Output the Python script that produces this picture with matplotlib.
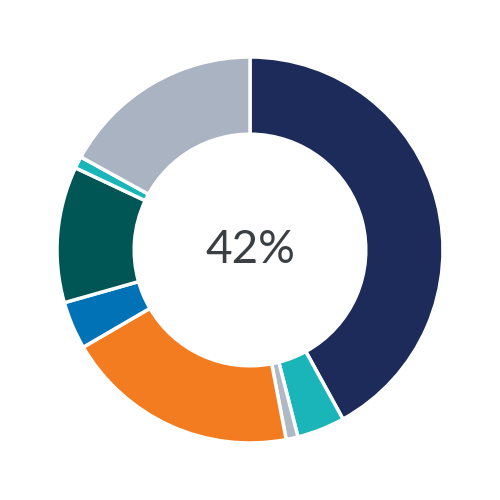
import matplotlib
matplotlib.use("Agg")
import matplotlib.pyplot as plt

labels = ["A", "B", "C", "D", "E", "F", "G", "H"]
values = [42, 4, 1, 19.6, 4, 11.4, 1, 17]
colors = ["#1c2b5a", "#1ab5b8", "#b0b8c4", "#f47c20", "#0072b5", "#005555", "#1ab5b8", "#a9b3c1"]
center_text = "42%"

fig = plt.figure(figsize=(5, 5), dpi=100)
ax = fig.add_axes([0, 0, 1, 1])
ax.pie(values, colors=colors, startangle=90, counterclock=False, radius=1,
       wedgeprops=dict(width=0.4, edgecolor="white", linewidth=2.5))
lim = 250 / 193
ax.set_xlim(-lim, lim)
ax.set_ylim(-lim, lim)
ax.set_aspect("equal")
ax.axis("off")
ax.text(0, 0.0, center_text, ha="center", va="center", fontsize=33,
        family="Lato", fontweight="normal", color="#3a3f44")
fig.savefig("out.png", dpi=100)
